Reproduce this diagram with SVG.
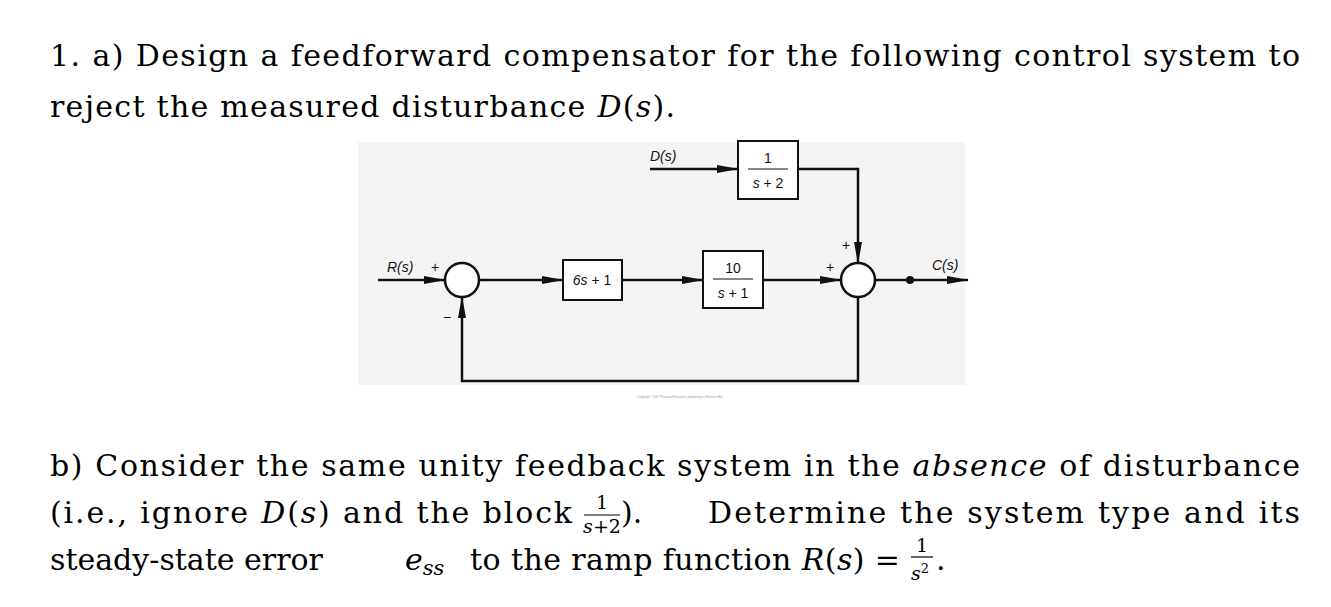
<svg xmlns="http://www.w3.org/2000/svg" width="1331" height="607" viewBox="0 0 1331 607">
<style>
.t{font-family:"DejaVu Serif","Liberation Serif",serif;font-size:30px;fill:#000}
.d{font-family:"Liberation Sans",Arial,sans-serif;font-size:14px;fill:#111;font-style:italic}
.n{font-family:"Liberation Sans",Arial,sans-serif;font-size:14px;fill:#111}
.ln{fill:none;stroke:#111;stroke-width:2.5}
.bx{fill:#fff;stroke:#111;stroke-width:2}
.f{font-family:"DejaVu Serif","Liberation Serif",serif;font-size:19px;fill:#000}
</style>
<defs><marker id="b" markerWidth="22" markerHeight="8" refX="21" refY="4" orient="auto" markerUnits="userSpaceOnUse"><path d="M0,0 L22,4 L0,8 Z" fill="#111"/></marker></defs>
<rect width="1331" height="607" fill="#fff"/>
<text class="t" x="50" y="66" textLength="1250" lengthAdjust="spacing">1. a) Design a feedforward compensator for the following control system to</text>
<text class="t" x="50" y="117" textLength="625" lengthAdjust="spacing">reject the measured disturbance <tspan font-style="italic">D</tspan>(<tspan font-style="italic">s</tspan>).</text>
<rect x="358" y="142" width="607" height="243" fill="#f4f4f4"/>
<g id="connectors">
<path class="ln" d="M378,280 H445" marker-end="url(#b)"/>
<path class="ln" d="M479,280 H563" marker-end="url(#b)"/>
<path class="ln" d="M622,280 H703" marker-end="url(#b)"/>
<path class="ln" d="M763,280 H841" marker-end="url(#b)"/>
<path class="ln" d="M875,280 H968" marker-end="url(#b)"/>
<circle cx="910" cy="280" r="4" fill="#111"/>
<path class="ln" d="M650,169 H738" marker-end="url(#b)"/>
<path class="ln" d="M798,169 H858 V263" marker-end="url(#b)"/>
<path class="ln" d="M858,297 V381 H462 V297" marker-end="url(#b)"/>
</g>
<g id="sum1"><circle cx="462" cy="280" r="17" fill="#fff" stroke="#111" stroke-width="2.5"/>
<text class="n" x="431" y="272">+</text><text class="n" x="443" y="322">−</text></g>
<g id="sum2"><circle cx="858" cy="280" r="17" fill="#fff" stroke="#111" stroke-width="2.5"/>
<text class="n" x="842" y="250">+</text><text class="n" x="826" y="272">+</text></g>
<g id="b1"><rect class="bx" x="563" y="260" width="59" height="40"/><text class="n" x="592" y="285" text-anchor="middle"><tspan font-style="italic">6s</tspan> + 1</text></g>
<g id="b2"><rect class="bx" x="703" y="251" width="60" height="57"/><text class="n" x="733" y="273" text-anchor="middle">10</text><line x1="713" y1="279" x2="753" y2="279" stroke="#111" stroke-width="1.2"/><text class="n" x="733" y="298" text-anchor="middle"><tspan font-style="italic">s</tspan> + 1</text></g>
<g id="b3"><rect class="bx" x="738" y="141" width="60" height="58"/><text class="n" x="768" y="163" text-anchor="middle">1</text><line x1="748" y1="169" x2="788" y2="169" stroke="#111" stroke-width="1.2"/><text class="n" x="768" y="188" text-anchor="middle"><tspan font-style="italic">s</tspan> + 2</text></g>
<text class="d" x="387" y="272">R(s)</text>
<text class="d" x="650" y="161">D(s)</text>
<text class="d" x="932" y="270">C(s)</text>
<text x="680" y="398" font-family="Liberation Sans,sans-serif" font-size="3" fill="#999" text-anchor="middle">Copyright ©2017 Pearson Education, publishing as Prentice Hall</text>
<text class="t" x="50" y="476" textLength="1250" lengthAdjust="spacing">b) Consider the same unity feedback system in the <tspan font-style="italic">absence</tspan> of disturbance</text>
<text class="t" x="50" y="523" textLength="522" lengthAdjust="spacing">(i.e., ignore <tspan font-style="italic">D</tspan>(<tspan font-style="italic">s</tspan>) and the block</text>
<text class="f" x="602" y="509" text-anchor="middle">1</text>
<line x1="584" y1="515" x2="620" y2="515" stroke="#000" stroke-width="1.2"/>
<text class="f" x="602" y="533" text-anchor="middle"><tspan font-style="italic">s</tspan>+2</text>
<text class="t" x="621" y="523">).</text>
<text class="t" x="708" y="523" textLength="592" lengthAdjust="spacing">Determine the system type and its</text>
<text class="t" x="50" y="570">steady-state error</text>
<text class="t" x="405" y="570" font-style="italic">e<tspan font-size="21" dy="5">ss</tspan></text>
<text class="t" x="470" y="570" textLength="430" lengthAdjust="spacing">to the ramp function <tspan font-style="italic">R</tspan>(<tspan font-style="italic">s</tspan>) =</text>
<text class="f" x="922" y="552" text-anchor="middle">1</text>
<line x1="911" y1="557" x2="933" y2="557" stroke="#000" stroke-width="1.2"/>
<text class="f" x="920" y="580" text-anchor="middle" font-style="italic">s<tspan font-size="13" dy="-7" font-style="normal">2</tspan></text>
<text class="t" x="936" y="570">.</text>
</svg>
